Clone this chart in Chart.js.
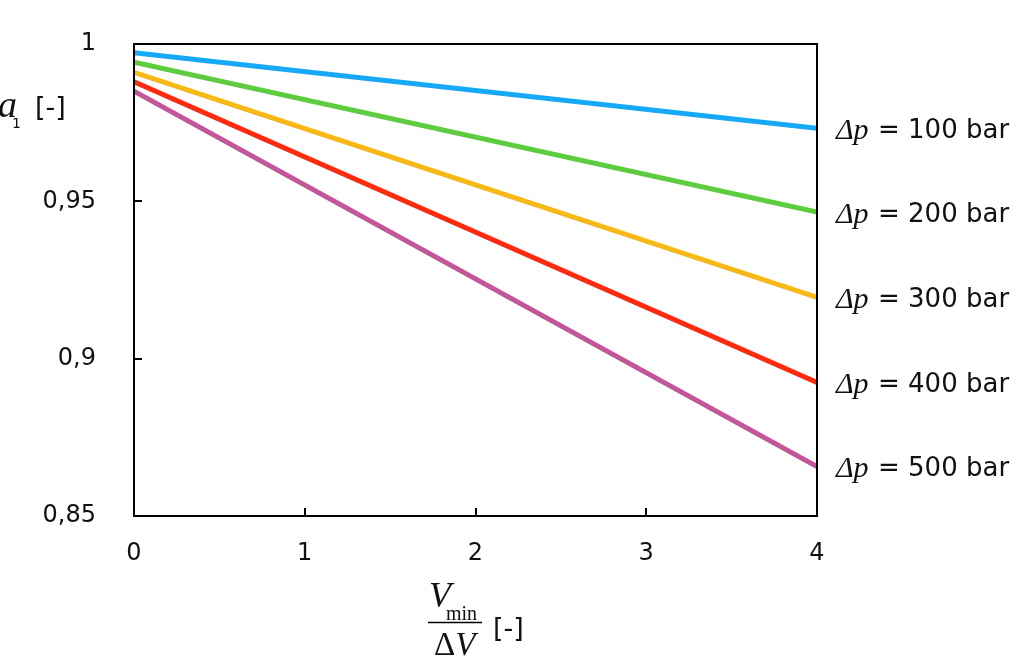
<!DOCTYPE html>
<html>
<head>
<meta charset="utf-8">
<script src="https://cdn.jsdelivr.net/npm/chart.js@4/dist/chart.umd.min.js"></script>
<style>
  html, body { margin: 0; padding: 0; background: #fff; }
  #wrap { width: 1028px; height: 671px; }
</style>
</head>
<body>
<div id="wrap"><canvas id="c" width="1028" height="671"></canvas></div>
<script>
// x = Vmin / ΔV, y = a1
var xs = [0, 4];
var pressures = [100, 200, 300, 400, 500];
var a1_100 = [0.9972, 0.9732];
var a1_200 = [0.9942, 0.9466];
var a1_300 = [0.9910, 0.9195];
var a1_400 = [0.9880, 0.8924];
var a1_500 = [0.9850, 0.8657];
var yTicks = [0.85, 0.9, 0.95, 1];
var xTicks = [0, 1, 2, 3, 4];

var colors = ['#17a8f8', '#5dcc3e', '#f8b817', '#ff2a0f', '#c2569b'];
var series = [a1_100, a1_200, a1_300, a1_400, a1_500];

var SANS = '"DejaVu Sans", Arial, sans-serif';
var SERIF = '"Liberation Serif", "DejaVu Serif", serif';

// plot box in the original image
var BOX = { left: 134, top: 44, right: 817, bottom: 516 };

function toPts(ys) {
  return xs.map(function (x, i) { return { x: x, y: ys[i] }; });
}

// box, inward ticks, curve labels, axis titles
var decor = {
  id: 'decor',
  afterDraw: function (chart) {
    var ctx = chart.ctx, a = chart.chartArea;
    var sx = chart.scales.x, sy = chart.scales.y;
    ctx.save();
    ctx.strokeStyle = '#000';
    ctx.lineWidth = 2;
    ctx.strokeRect(a.left, a.top, a.right - a.left, a.bottom - a.top);
    ctx.beginPath();
    xTicks.forEach(function (v) {
      var px = Math.round(sx.getPixelForValue(v));
      ctx.moveTo(px, a.bottom); ctx.lineTo(px, a.bottom - 8);
    });
    yTicks.forEach(function (v) {
      var py = Math.round(sy.getPixelForValue(v));
      ctx.moveTo(a.left, py); ctx.lineTo(a.left + 8, py);
    });
    ctx.stroke();

    // Δp labels next to line ends
    ctx.fillStyle = '#111';
    ctx.textBaseline = 'middle';
    ctx.textAlign = 'left';
    series.forEach(function (ys, i) {
      var py = sy.getPixelForValue(ys[ys.length - 1]) + 3;
      var px = a.right + 19;
      ctx.font = 'italic 30px ' + SERIF;
      ctx.fillText('Δp', px, py);
      ctx.font = '26px ' + SANS;
      ctx.fillText('= ' + pressures[i] + ' bar', px + 42, py);
    });

    // y title: a1 [-]
    ctx.textBaseline = 'alphabetic';
    ctx.font = 'italic 38px ' + SERIF;
    ctx.fillText('a', -2, 117);
    ctx.font = '14px ' + SANS;
    ctx.fillText('1', 12, 128);
    ctx.font = '27px ' + SANS;
    ctx.fillText('[-]', 35, 116);

    // x title: Vmin / ΔV [-]
    ctx.font = 'italic 36px ' + SERIF;
    ctx.fillText('V', 429, 607);
    ctx.font = '20px ' + SERIF;
    ctx.fillText('min', 446, 620);
    ctx.lineWidth = 1.5;
    ctx.beginPath();
    ctx.moveTo(428, 622.5); ctx.lineTo(482, 622.5);
    ctx.stroke();
    ctx.font = '33px ' + SERIF;
    ctx.fillText('Δ', 434, 655);
    var dw = ctx.measureText('Δ').width;
    ctx.font = 'italic 33px ' + SERIF;
    ctx.fillText('V', 434 + dw, 655);
    ctx.font = '27px ' + SANS;
    ctx.fillText('[-]', 493, 637);
    ctx.restore();
  }
};

new Chart(document.getElementById('c'), {
  type: 'line',
  data: {
    datasets: series.map(function (ys, i) {
      return {
        label: 'Δp = ' + pressures[i] + ' bar',
        data: toPts(ys),
        borderColor: colors[i],
        backgroundColor: colors[i],
        borderWidth: 5,
        pointRadius: 0,
        tension: 0,
        fill: false
      };
    })
  },
  options: {
    responsive: false,
    animation: false,
    devicePixelRatio: 1,
    layout: { padding: { left: 0, top: 0, right: 0, bottom: 0 } },
    plugins: { legend: { display: false }, tooltip: { enabled: false } },
    scales: {
      x: {
        type: 'linear',
        min: 0, max: 4,
        afterFit: function (s) {
          s.height = 671 - BOX.bottom;
          s.paddingLeft = 0; s.paddingRight = 1028 - BOX.right;
        },
        afterBuildTicks: function (s) { s.ticks = xTicks.map(function (v) { return { value: v }; }); },
        grid: { display: false, drawTicks: false },
        border: { display: false },
        ticks: {
          padding: 23,
          color: '#111',
          font: { family: SANS, size: 24 },
          callback: function (v) { return String(v); }
        }
      },
      y: {
        type: 'linear',
        min: 0.85, max: 1,
        afterFit: function (s) {
          s.width = BOX.left;
          s.paddingTop = BOX.top; s.paddingBottom = 0;
        },
        afterBuildTicks: function (s) { s.ticks = yTicks.map(function (v) { return { value: v }; }); },
        grid: { display: false, drawTicks: false },
        border: { display: false },
        ticks: {
          padding: 38,
          color: '#111',
          font: { family: SANS, size: 24 },
          callback: function (v) { return String(Number(v.toFixed(2))).replace('.', ','); }
        }
      }
    }
  },
  plugins: [decor]
});
</script>
</body>
</html>
